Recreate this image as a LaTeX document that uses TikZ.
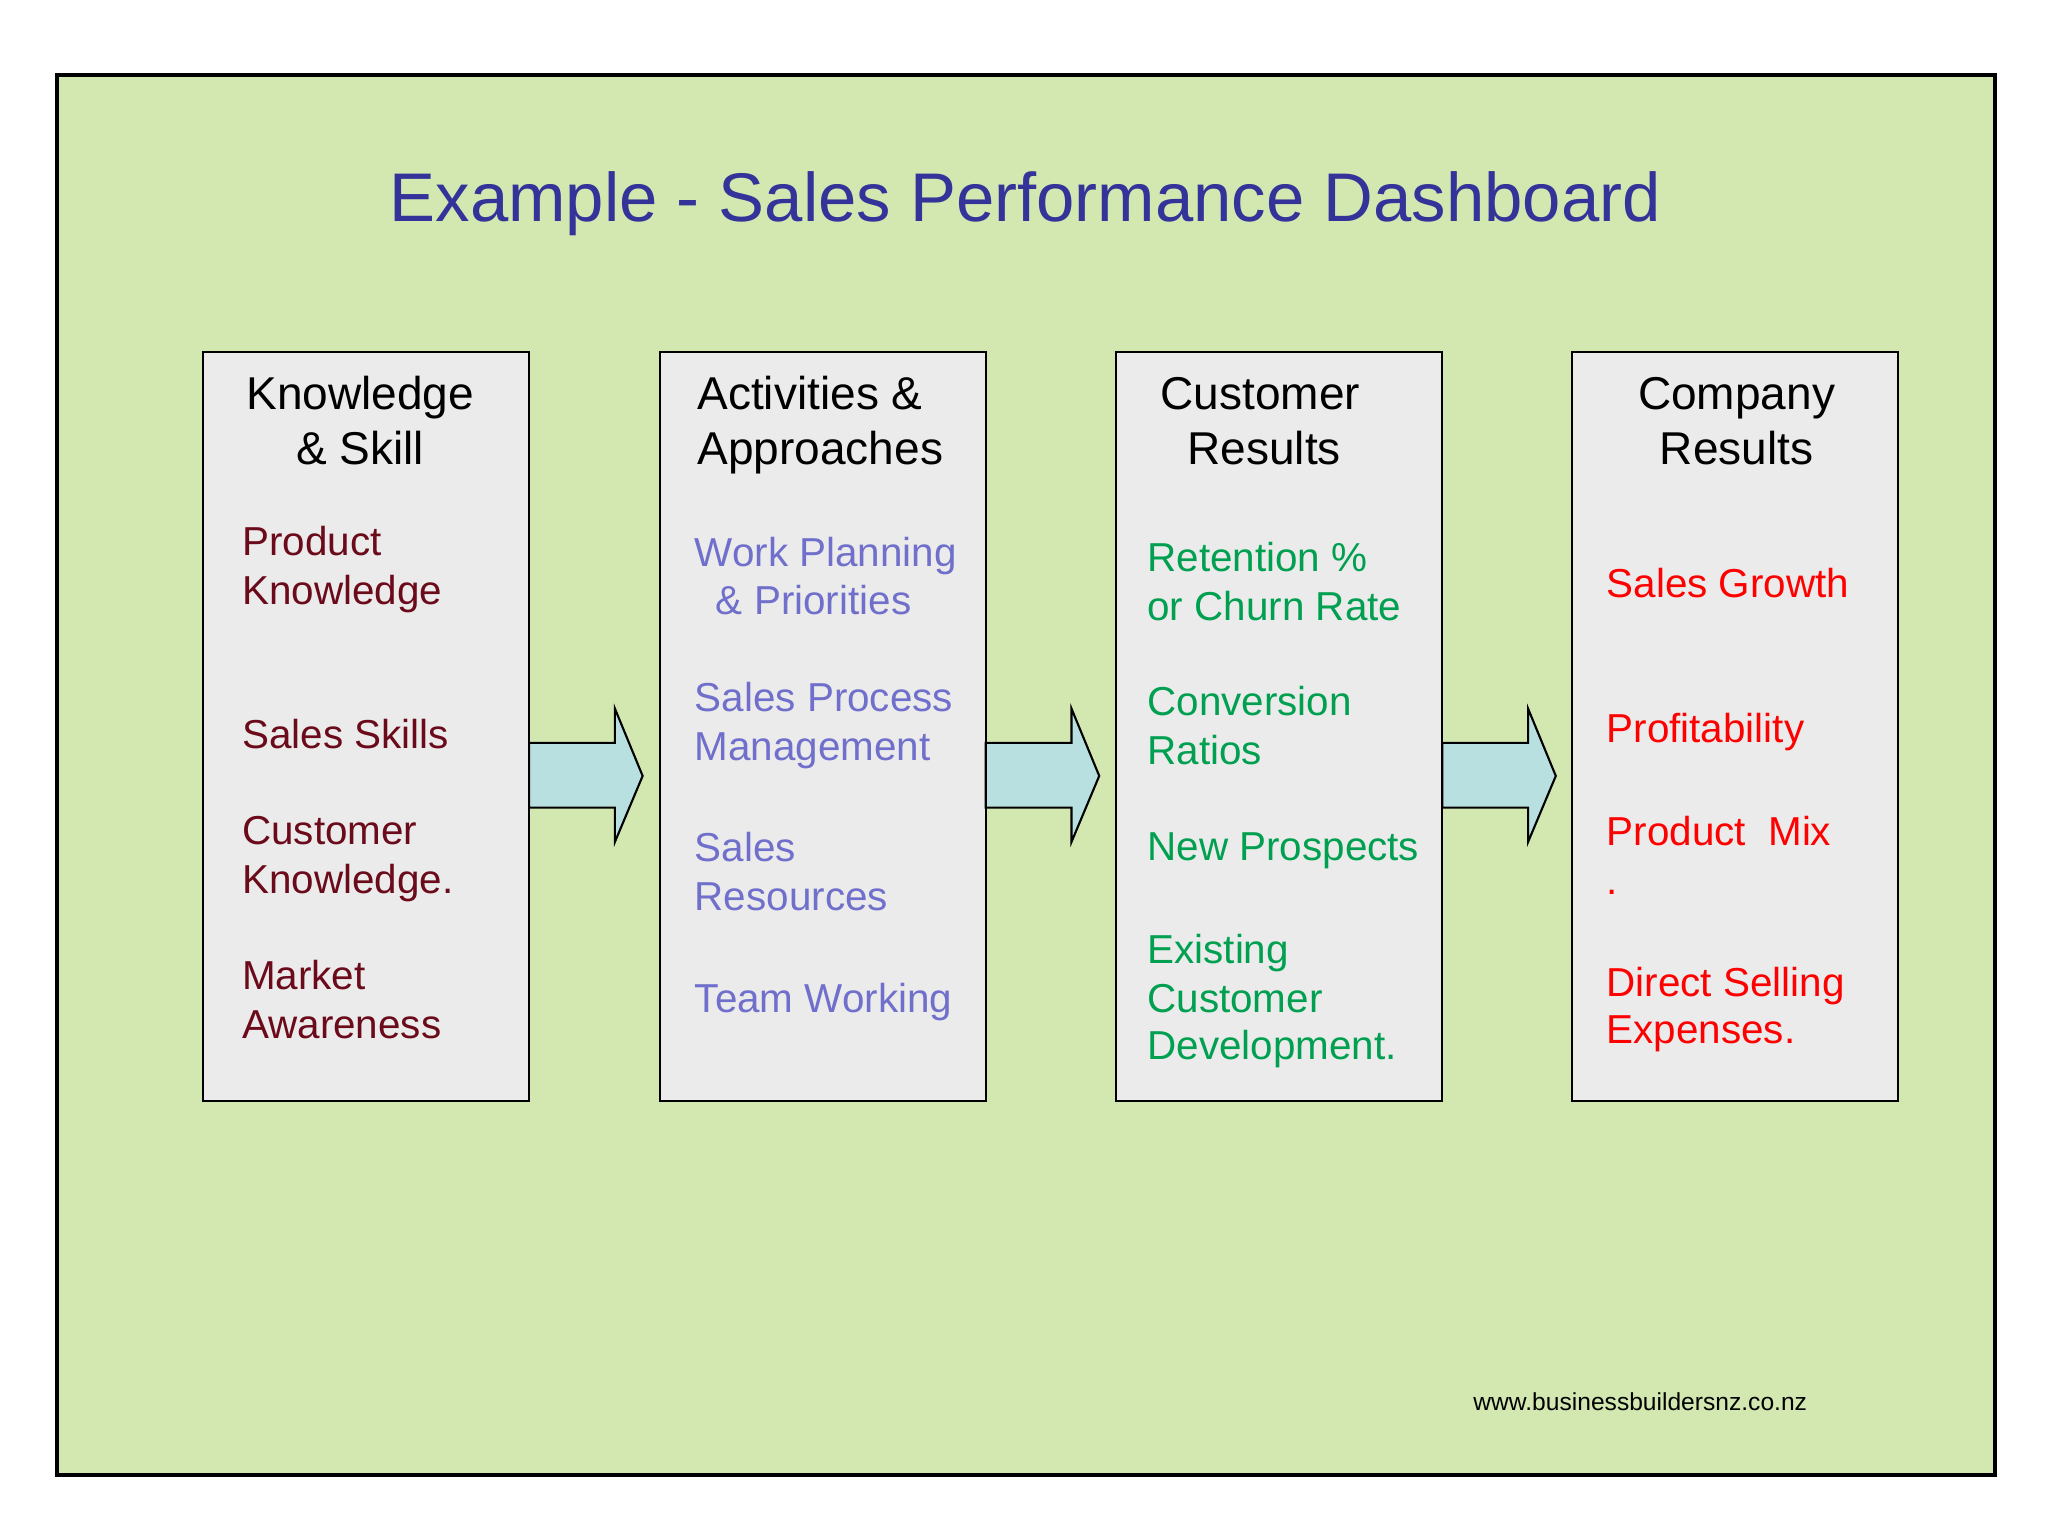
\documentclass[tikz,border=0pt]{standalone}
\usepackage{fontspec}
\setmainfont{Liberation Sans}
\definecolor{bg}{HTML}{D3E8B0}
\definecolor{boxg}{HTML}{EBEBEB}
\definecolor{arr}{HTML}{B8E0E0}
\definecolor{ttl}{HTML}{333399}
\definecolor{cA}{HTML}{6B0A1A}
\definecolor{cB}{HTML}{7070CC}
\definecolor{cC}{HTML}{00A050}
\definecolor{cD}{HTML}{FF0000}
\begin{document}
\begin{tikzpicture}[x=0.0132cm,y=-0.0132cm,
  box/.style={draw=black,fill=boxg,line width=0.6pt},
  hd/.style={anchor=base,inner sep=0,font=\fontsize{13.1}{16}\selectfont},
  hl/.style={anchor=base west,inner sep=0,font=\fontsize{13.1}{16}\selectfont},
  it/.style={anchor=base west,inner sep=0,font=\fontsize{11.5}{13.5}\selectfont},
  arrow/.style={draw=black,fill=arr,line width=0.6pt,line join=miter}]
\useasboundingbox[fill=white] (0,0) rectangle (1552,1164);
\draw[fill=bg,line width=1.2pt] (43,57) rectangle (1512,1118);
\node[anchor=base,inner sep=0,text=ttl,font=\fontsize{19.6}{23}\selectfont] (title) at (777,168) {Example - Sales Performance Dashboard};
\draw[box] (154,267) rectangle (401,834);
\draw[box] (500,267) rectangle (747,834);
\draw[box] (846,267) rectangle (1093,834);
\draw[box] (1191,267) rectangle (1438,834);
\foreach \x in {401,747,1093}{
  \draw[arrow] (\x,563) -- (\x+65,563) -- (\x+65,537) -- (\x+86,588) -- (\x+65,638) -- (\x+65,612) -- (\x,612) -- cycle;}
% headers
\node[hd] (h1a) at (273,310) {Knowledge};
\node[hd] (h1b) at (273,352) {\& Skill};
\node[hl] (h2a) at (528,310) {Activities \&};
\node[hl] (h2b) at (528,352) {Approaches};
\node[hl] (h3a) at (879,310) {Customer};
\node[hd] (h3b) at (958,352) {Results};
\node[hd] (h4a) at (1316,310) {Company};
\node[hd] (h4b) at (1316,352) {Results};
\begin{scope}[every node/.style={it,text=cA}]
\node (a1) at (183,421) {Product};
\node (a2) at (183,458) {Knowledge};
\node (a3) at (183,567) {Sales Skills};
\node (a4) at (183,640) {Customer};
\node (a5) at (183,677) {Knowledge.};
\node (a6) at (183,750) {Market};
\node (a7) at (183,787) {Awareness};
\end{scope}
\begin{scope}[every node/.style={it,text=cB}]
\node (b1) at (526,429) {Work Planning};
\node (b2) at (542,466) {\& Priorities};
\node (b3) at (526,539) {Sales Process};
\node (b4) at (526,576) {Management};
\node (b5) at (526,653) {Sales};
\node (b6) at (526,690) {Resources};
\node (b7) at (526,767) {Team Working};
\end{scope}
\begin{scope}[every node/.style={it,text=cC}]
\node (c1) at (869,433) {Retention \%};
\node (c2) at (869,470) {or Churn Rate};
\node (c3) at (869,542) {Conversion};
\node (c4) at (869,579) {Ratios};
\node (c5) at (869,652) {New Prospects};
\node (c6) at (869,730) {Existing};
\node (c7) at (869,767) {Customer};
\node (c8) at (869,803) {Development.};
\end{scope}
\begin{scope}[every node/.style={it,text=cD}]
\node (d1) at (1217,453) {Sales Growth};
\node (d2) at (1217,563) {Profitability};
\node (d3) at (1217,641) {Product\ \ Mix};
\node (d4) at (1217,678) {.};
\node (d5) at (1217,755) {Direct Selling};
\node (d6) at (1217,791) {Expenses.};
\end{scope}
\node[anchor=base,inner sep=0,font=\fontsize{7}{8}\selectfont] (web) at (1243,1069) {www.businessbuildersnz.co.nz};
\end{tikzpicture}
\end{document}
